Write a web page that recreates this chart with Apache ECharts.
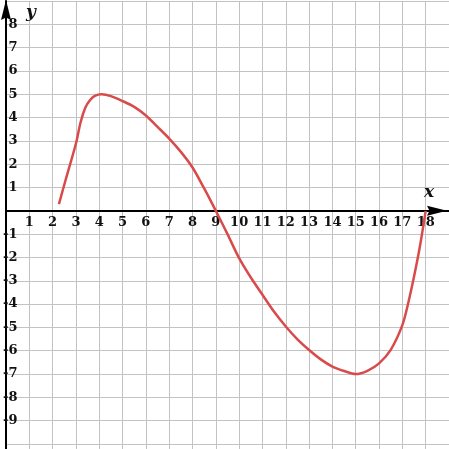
<!DOCTYPE html>
<html>
<head>
<meta charset="utf-8">
<script src="https://cdn.jsdelivr.net/npm/echarts@6/dist/echarts.min.js"></script>
<style>
html,body{margin:0;padding:0;background:#fff;}
#c{width:449px;height:449px;}
</style>
</head>
<body>
<div id="c"></div>
<script>
// Data
var curveX = [2.27, 2.55, 3, 3.2, 3.4, 3.6, 3.81, 4.1, 4.5, 5, 5.5, 6, 6.5, 7, 7.5, 8, 8.5, 9, 9.5, 10, 10.5, 11, 11.5, 12, 12.5, 13, 13.5, 14, 14.5, 15, 15.5, 16, 16.5, 17, 17.25, 17.5, 17.75, 18];
var curveY = [0.29, 1.3, 2.89, 3.8, 4.42, 4.74, 4.93, 5.0, 4.92, 4.71, 4.46, 4.09, 3.6, 3.1, 2.53, 1.86, 0.96, 0, -1.0, -2.03, -2.86, -3.6, -4.33, -4.96, -5.51, -5.97, -6.37, -6.68, -6.87, -7.0, -6.86, -6.54, -5.96, -4.9, -3.96, -2.82, -1.54, 0];
var xRange = [0, 19];
var yRange = [-10, 9];
var xHiddenLabels = [0, 19];
var yHiddenLabels = [0, 9, -10];
var xName = 'x';
var yName = 'y';

var curve = curveX.map(function (x, i) { return [x, curveY[i]]; });

var FONT = 'DejaVu Serif';
var FS = 13;
var gridColor = '#c3c3c3';
var plotH = 443;
var xAxisOffset = -plotH * (0 - yRange[0]) / (yRange[1] - yRange[0]);
var arrowPath = 'path://M5,0L10,20L5,17.5L0,20Z';
var chart = echarts.init(document.getElementById('c'), null, {renderer: 'canvas'});
chart.setOption({
  animation: false,
  backgroundColor: '#ffffff',
  grid: [
    {left: 6, right: 0, top: 1, height: plotH, containLabel: false, outerBoundsMode: 'none'},
    {left: 6, right: 0, top: 444, bottom: 0, containLabel: false, outerBoundsMode: 'none'}
  ],
  xAxis: [{
    type: 'value', gridIndex: 0, min: xRange[0], max: xRange[1], interval: 1,
    position: 'bottom', offset: xAxisOffset,
    axisLine: {show: true, onZero: false, lineStyle: {color: '#000', width: 2},
      symbol: ['none', arrowPath], symbolSize: [11, 20], symbolOffset: [0, -12]},
    axisTick: {show: false},
    splitLine: {show: true, lineStyle: {color: gridColor, width: 1}},
    axisLabel: {
      show: true, margin: 5, color: '#111', fontFamily: FONT, fontWeight: 'bold', fontSize: FS,
      formatter: function (v) { return xHiddenLabels.indexOf(v) >= 0 ? '' : String(v); }
    }
  }, {
    type: 'value', gridIndex: 1, min: xRange[0], max: xRange[1], interval: 1,
    axisLine: {show: false}, axisTick: {show: false}, axisLabel: {show: false},
    splitLine: {show: true, lineStyle: {color: gridColor, width: 1}}
  }],
  yAxis: [{
    type: 'value', gridIndex: 0, min: yRange[0], max: yRange[1], interval: 1,
    position: 'left',
    axisLine: {show: true, onZero: false, lineStyle: {color: '#000', width: 2},
      symbol: ['none', arrowPath], symbolSize: [11, 20], symbolOffset: [0, -9]},
    axisTick: {show: false},
    splitLine: {show: true, lineStyle: {color: gridColor, width: 1}},
    axisLabel: {
      show: true, margin: 3, align: 'left', color: '#111', fontFamily: FONT, fontWeight: 'bold', fontSize: FS,
      formatter: function (v) {
        if (yHiddenLabels.indexOf(v) >= 0) return '';
        if (v > 0) return '{h|-}{d|' + v + '}';
        return '{d|-' + (-v) + '}';
      },
      rich: {
        h: {color: 'rgba(0,0,0,0)', fontFamily: FONT, fontWeight: 'bold', fontSize: FS},
        d: {color: '#111', fontFamily: FONT, fontWeight: 'bold', fontSize: FS}
      }
    }
  }, {
    type: 'value', gridIndex: 1, min: 0, max: 1,
    axisLine: {show: true, onZero: false, lineStyle: {color: '#000', width: 2}},
    axisTick: {show: false}, axisLabel: {show: false}, splitLine: {show: false}
  }],
  series: [{
    type: 'line', xAxisIndex: 0, yAxisIndex: 0,
    data: curve, smooth: 0.3, showSymbol: false, symbol: 'none',
    lineStyle: {color: '#d94a4b', width: 2.5},
    z: 5
  }],
  graphic: [
    {type: 'text', left: 26, top: 4, z: 10,
      style: {text: yName, font: 'italic bold 17px "DejaVu Serif"', fill: '#111'}},
    {type: 'text', left: 424, top: 184, z: 10,
      style: {text: xName, font: 'italic bold 17px "DejaVu Serif"', fill: '#111'}}
  ]
});
</script>
</body>
</html>
